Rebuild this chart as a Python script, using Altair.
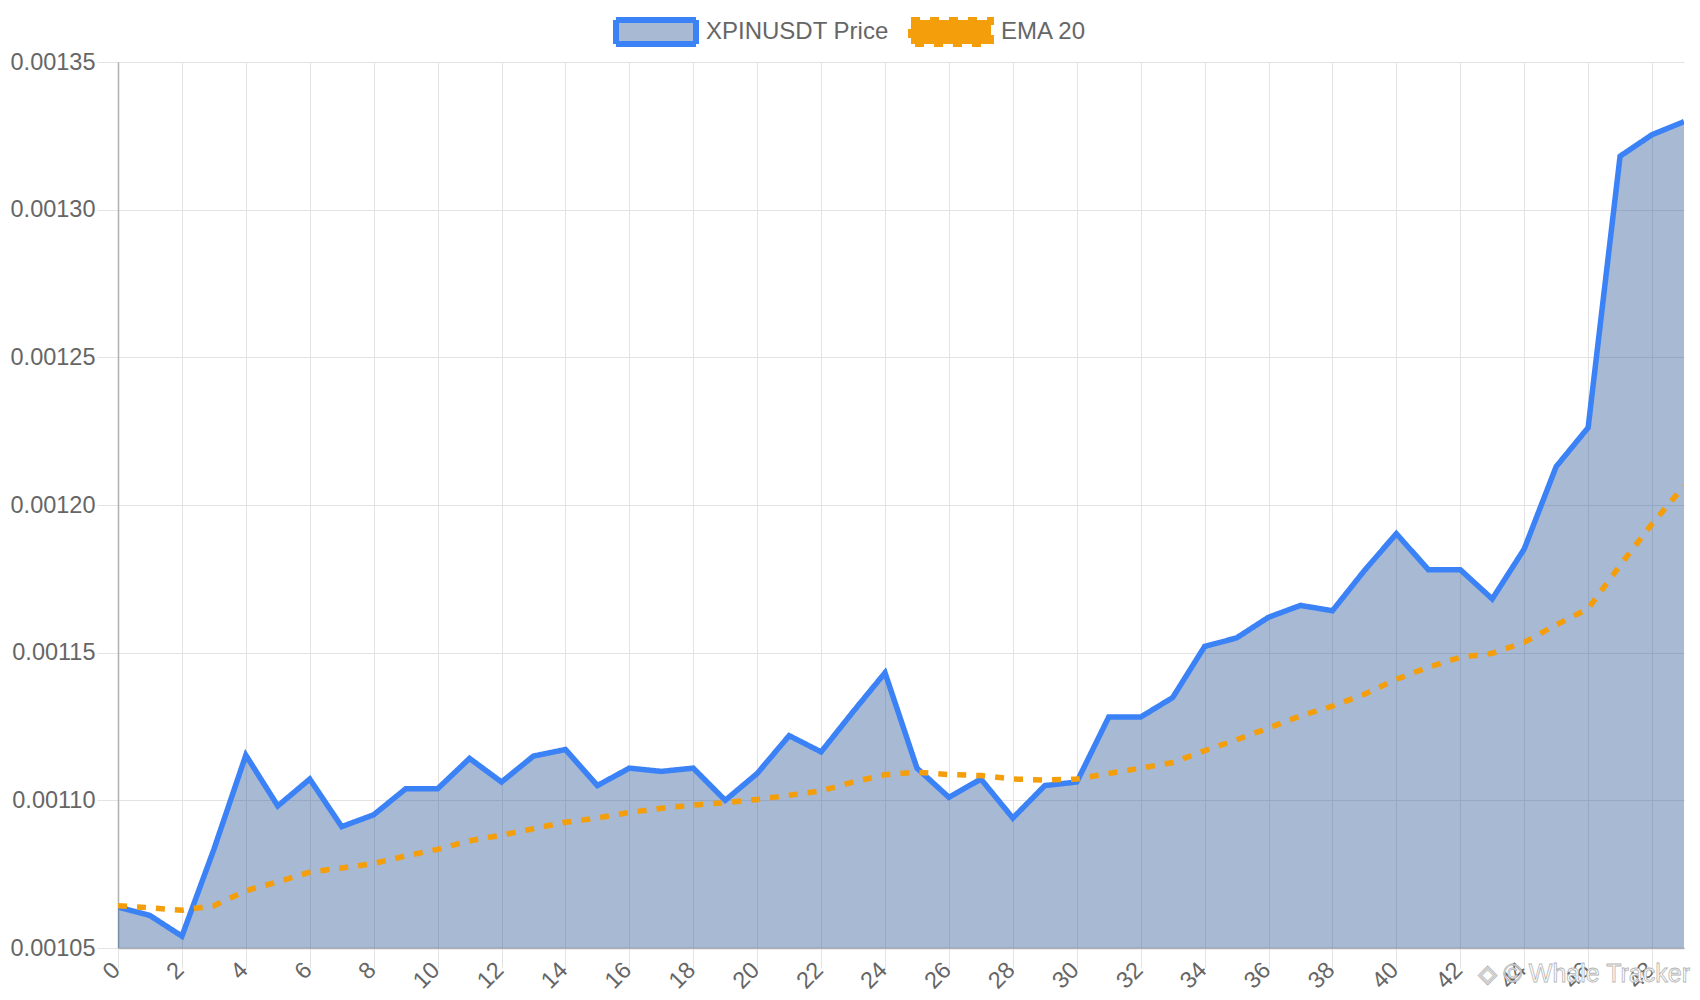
import altair as alt
import pandas as pd

# ---- data ----
idx = list(range(50))
price = [0.0010639, 0.0010610, 0.0010540, 0.0010834, 0.0011153, 0.0010981, 0.0011072, 0.0010911, 0.0010951, 0.0011039,
         0.0011039, 0.0011142, 0.0011062, 0.0011150, 0.0011172, 0.0011050, 0.0011109, 0.0011098, 0.0011109, 0.0011000,
         0.0011091, 0.0011219, 0.0011164, 0.0011300, 0.0011432, 0.0011109, 0.0011010, 0.0011072, 0.0010940, 0.0011050,
         0.0011062, 0.0011282, 0.0011282, 0.0011348, 0.0011521, 0.0011550, 0.0011620, 0.0011660, 0.0011642, 0.0011778,
         0.0011903, 0.0011781, 0.0011781, 0.0011682, 0.0011851, 0.0012130, 0.0012262, 0.0013181, 0.0013254, 0.0013298]
ema20 = [0.0010643, 0.0010636, 0.0010628, 0.0010643, 0.0010694, 0.0010724, 0.0010757, 0.0010771, 0.0010786, 0.0010812,
         0.0010834, 0.0010863, 0.0010882, 0.0010904, 0.0010926, 0.0010940, 0.0010959, 0.0010973, 0.0010984, 0.0010992,
         0.0011003, 0.0011017, 0.0011032, 0.0011062, 0.0011087, 0.0011095, 0.0011087, 0.0011084, 0.0011072, 0.0011069,
         0.0011072, 0.0011091, 0.0011109, 0.0011128, 0.0011168, 0.0011205, 0.0011245, 0.0011286, 0.0011319, 0.0011359,
         0.0011410, 0.0011451, 0.0011484, 0.0011498, 0.0011535, 0.0011594, 0.0011649, 0.0011796, 0.0011936, 0.0012064]
series_names = ["XPINUSDT Price", "EMA 20"]
y_ticks = [0.00105, 0.00110, 0.00115, 0.00120, 0.00125, 0.00130, 0.00135]
x_ticks = list(range(0, 49, 2))
watermark = ["◈ © Whale Tracker"]

BLUE = "#3b82f6"
ORANGE = "#f59e0b"
LIGHT = "#a7b9d3"
FONT = "Liberation Sans"

df = pd.DataFrame({
    "idx": idx * 2,
    "value": price + ema20,
    "series": [series_names[0]] * len(idx) + [series_names[1]] * len(idx),
})
price_df = pd.DataFrame({"idx": idx, "value": price})

x_enc = alt.X("idx:Q",
              scale=alt.Scale(domain=[0, 49], nice=False, zero=False),
              axis=alt.Axis(values=x_ticks, title=None, labelAngle=-45, labelAlign="right",
                            labelBaseline="middle", labelFontSize=23.5, labelColor="#666666",
                            labelFont=FONT, labelPadding=-2, labelOffset=-2, tickSize=20,
                            tickColor="#e3e3e3", gridColor="#e3e3e3", domainColor="#b0b0b0",
                            domainWidth=1.5, labelOverlap=False, labelFlush=False))
y_enc = alt.Y("value:Q",
              scale=alt.Scale(domain=[y_ticks[0], y_ticks[-1]], nice=False, zero=False),
              axis=alt.Axis(values=y_ticks, format=".5f", title=None, labelFontSize=23.5,
                            labelColor="#666666", labelFont=FONT, labelPadding=2, tickSize=21,
                            tickColor="#e3e3e3", gridColor="#e3e3e3", domainColor="#b0b0b0",
                            domainWidth=1.5))

legend = alt.Legend(
    title=None, orient="none", direction="horizontal", legendX=495, legendY=-73,
    symbolType="M-1,-0.3H1V0.3H-1Z", symbolSize=6400, symbolStrokeWidth=6, symbolOpacity=1,
    labelFontSize=24, labelColor="#666666", labelFont=FONT, labelOffset=7, labelLimit=600,
    columnPadding=10, padding=0,
)
stroke_scale = alt.Scale(domain=series_names, range=[BLUE, ORANGE])
dash_scale = alt.Scale(domain=series_names, range=[[1, 0], [9, 10]])
fill_scale = alt.Scale(domain=series_names, range=[LIGHT, ORANGE])

area = alt.Chart(price_df).mark_area(color="#234f91", opacity=0.4, clip=True).encode(x=x_enc, y=y_enc)

lines = alt.Chart(df).mark_line(strokeWidth=5.5, clip=True).encode(
    x=x_enc, y=y_enc,
    stroke=alt.Stroke("series:N", scale=stroke_scale, legend=legend),
    strokeDash=alt.StrokeDash("series:N", scale=dash_scale, legend=legend),
    order=alt.Order("idx:Q"),
)

# legend carrier: no marks drawn (all rows filtered), only supplies fill/stroke/dash to the legend
legend_layer = alt.Chart(df).transform_filter("false").mark_point(
    filled=True, opacity=1, strokeWidth=6
).encode(
    x=x_enc, y=y_enc,
    fill=alt.Fill("series:N", scale=fill_scale, legend=legend),
    stroke=alt.Stroke("series:N", scale=stroke_scale, legend=legend),
    strokeDash=alt.StrokeDash("series:N", scale=dash_scale, legend=legend),
)

wm = alt.Chart(pd.DataFrame({"t": watermark})).mark_text(
    align="right", baseline="middle", fontSize=25, font=FONT, color="white",
    stroke="#b5b5b5", strokeWidth=0.8,
).encode(x=alt.value(1572), y=alt.value(912), text="t:N")

chart = alt.layer(area, lines, legend_layer, wm).properties(
    width=1566, height=886,
    autosize=alt.AutoSizeParams(type="none"),
    padding={"left": 110, "top": 54, "right": 8, "bottom": 44},
).configure_view(stroke=None)

chart.save("out.html", embed_options={"renderer": "svg", "actions": False})
